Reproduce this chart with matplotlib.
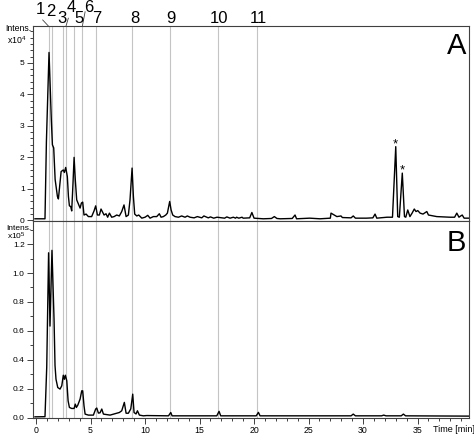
import matplotlib
matplotlib.use("Agg")
import matplotlib.pyplot as plt
from matplotlib.ticker import MultipleLocator, FixedLocator, FormatStrFormatter

plt.rcParams['font.family'] = ['Liberation Sans', 'DejaVu Sans']
plt.rcParams['mathtext.fontset'] = 'custom'
plt.rcParams['mathtext.rm'] = 'Liberation Sans'
plt.rcParams['mathtext.it'] = 'Liberation Sans'

# ---- trace A (intensity x10^4) ----
time_a = [-0.1, 0.82, 0.95, 1.19, 1.4, 1.5, 1.62, 1.75, 1.96, 2.05, 2.3, 2.5, 2.6, 2.72, 2.87,
          2.97, 3.06, 3.18, 3.27, 3.39, 3.49, 3.6, 3.73, 3.88, 4.04, 4.16, 4.28, 4.4, 4.59,
          4.8, 5.1, 5.32, 5.47, 5.63, 5.81, 5.96, 6.08, 6.24, 6.42, 6.57, 6.73, 6.94, 7.16,
          7.4, 7.64, 7.86, 8.07, 8.26, 8.47, 8.62, 8.81, 8.93, 9.05, 9.24, 9.42, 9.7, 10.0,
          10.25, 10.46, 10.76, 11.07, 11.31, 11.47, 11.68, 11.9, 12.05, 12.26, 12.39, 12.54,
          12.75, 13.06, 13.36, 13.67, 13.88, 14.13, 14.5, 14.8, 15.2, 15.4, 15.8, 16.0, 16.3,
          16.6, 17.3, 17.5, 17.8, 18.1, 18.3, 18.4, 18.6, 18.9, 19.0, 19.6, 19.8, 20.0, 20.85,
          21.6, 21.86, 22.1, 22.4, 23.5, 23.76, 23.9, 25.1, 26.05, 27.0, 27.06, 27.6, 27.98,
          28.1, 28.9, 29.1, 29.3, 30.3, 30.9, 31.1, 31.26, 32.2, 32.7, 33.0, 33.18, 33.33,
          33.6, 33.8, 33.92, 34.1, 34.3, 34.5, 34.7, 34.86, 35.02, 35.23, 35.5, 35.85, 36.0,
          36.76, 37.98, 38.4, 38.6, 38.8, 38.96, 39.1, 39.27, 39.7]
inten_a = [0.05, 0.05, 2.5, 5.33, 3.2, 2.4, 2.3, 1.3, 0.76, 0.68, 1.55, 1.6, 1.52, 1.68, 1.39,
           0.76, 0.46, 0.44, 0.3, 1.18, 2.0, 1.29, 0.65, 0.52, 0.39, 0.55, 0.58, 0.17, 0.2,
           0.12, 0.12, 0.3, 0.46, 0.17, 0.17, 0.36, 0.28, 0.17, 0.21, 0.1, 0.23, 0.1, 0.12,
           0.17, 0.14, 0.28, 0.49, 0.12, 0.17, 0.65, 1.66, 0.76, 0.2, 0.14, 0.17, 0.07, 0.1,
           0.16, 0.07, 0.12, 0.12, 0.21, 0.1, 0.12, 0.17, 0.23, 0.6, 0.33, 0.17,
           0.12, 0.1, 0.14, 0.1, 0.14, 0.1, 0.08, 0.12, 0.08, 0.14, 0.08, 0.11, 0.07,
           0.1, 0.07, 0.11, 0.07, 0.1, 0.07, 0.1, 0.07, 0.1, 0.07, 0.08, 0.25, 0.07, 0.05,
           0.06, 0.12, 0.06, 0.05, 0.06, 0.17, 0.05, 0.07, 0.05, 0.07, 0.23, 0.12, 0.14,
           0.09, 0.08, 0.14, 0.07, 0.07, 0.08, 0.2, 0.07, 0.1, 0.1, 2.34, 0.12, 0.1,
           1.5, 0.12, 0.1, 0.33, 0.12, 0.23, 0.36, 0.28, 0.31, 0.23, 0.2, 0.28, 0.17,
           0.12, 0.1, 0.1, 0.23, 0.1, 0.14, 0.17, 0.07, 0.07]

# ---- trace B (intensity x10^5) ----
time_b = [-0.1, 0.82, 0.98, 1.15, 1.28, 1.46, 1.65, 1.74, 1.83, 1.99, 2.2, 2.36, 2.5, 2.6,
          2.69, 2.82, 2.94, 3.06, 3.27, 3.49, 3.6, 3.7, 3.83, 4.04, 4.19, 4.28, 4.4, 4.5,
          4.8, 5.26, 5.47, 5.57, 5.72, 5.87, 6.03, 6.18, 6.79, 7.4, 7.64, 7.86, 8.1, 8.26,
          8.47, 8.69, 8.87, 8.99, 9.17, 9.3, 9.48, 9.85, 10.15, 12.15, 12.36, 12.48, 16.58,
          16.79, 16.94, 20.2, 20.4, 20.55, 28.9, 29.1, 29.3, 31.7, 31.9, 32.1, 33.5, 33.7,
          33.9, 39.7]
inten_b = [0.005, 0.006, 0.35, 1.14, 0.633, 1.157, 0.68, 0.36, 0.265, 0.208, 0.197, 0.22,
           0.293, 0.265, 0.293, 0.254, 0.116, 0.07, 0.063, 0.063, 0.093, 0.07, 0.086, 0.128,
           0.185, 0.185, 0.081, 0.024, 0.017, 0.017, 0.059, 0.066, 0.031, 0.033, 0.059, 0.024,
           0.017, 0.03, 0.035, 0.047, 0.105, 0.03, 0.03, 0.06, 0.162, 0.035, 0.025, 0.047,
           0.017, 0.012, 0.014, 0.012, 0.035, 0.012, 0.012, 0.043, 0.012, 0.012, 0.036,
           0.012, 0.012, 0.024, 0.012, 0.012, 0.017, 0.012, 0.012, 0.024, 0.012, 0.01]

# ---- marked compounds ----
peak_times = [1.17, 1.44, 2.5, 2.75, 3.49, 4.25, 5.53, 8.83, 12.3, 16.7, 20.3]
peak_labels = ['1', '2', '3', '4', '5', '6', '7', '8', '9', '10', '11']
label_x = [0.37, 1.38, 2.36, 3.2, 3.97, 4.8, 5.6, 9.05, 12.36, 16.76, 20.4]
label_raised = [True, True, False, True, False, True, False, False, False, False, False]
star_times = [33.0, 33.6]
star_inten = [2.47, 1.63]

fig = plt.figure(figsize=(4.74, 4.34), dpi=100)
axA = fig.add_axes([33/474, 1-221/434, 436/474, 195/434])
axB = fig.add_axes([33/474, 1-418/434, 436/474, 197/434])

for ax in (axA, axB):
    for t in peak_times:
        ax.axvline(t, color='#c4c4c4', lw=0.8, zorder=1)
    ax.set_xlim(-0.28, 39.72)
    for s in ax.spines.values():
        s.set_color('#404040')
        s.set_linewidth(0.8)
    ax.tick_params(axis='y', which='major', length=4.5, width=0.7, pad=1.5,
                   labelsize=6, colors='#404040', labelcolor='black')
    ax.tick_params(axis='y', which='minor', length=2.5, width=0.7, colors='#404040')

axA.plot(time_a, inten_a, color='black', lw=1.0, zorder=3)
axB.plot(time_b, inten_b, color='black', lw=1.0, zorder=3)

# panel A: labels 0..5 only, the tick at 6 stays unlabeled (minor)
axA.set_ylim(-0.02, 6.17)
axA.yaxis.set_major_locator(FixedLocator([0, 1, 2, 3, 4, 5]))
axA.yaxis.set_minor_locator(MultipleLocator(0.2))
axA.tick_params(axis='x', which='both', bottom=False, labelbottom=False)

axB.set_ylim(-0.003, 1.36)
axB.yaxis.set_major_locator(MultipleLocator(0.2))
axB.yaxis.set_minor_locator(MultipleLocator(0.1))
axB.yaxis.set_major_formatter(FormatStrFormatter('%.1f'))
axB.xaxis.set_major_locator(MultipleLocator(5))
axB.xaxis.set_minor_locator(MultipleLocator(1))
axB.tick_params(axis='x', which='major', length=4, width=0.7, pad=2,
                labelsize=6.3, colors='#404040', labelcolor='black')
axB.tick_params(axis='x', which='minor', length=2.5, width=0.7, colors='#404040')

# compound numbers above panel A
for lab, lx, up in zip(peak_labels, label_x, label_raised):
    if lab == '1':
        yy = 1.087
    elif lab == '2':
        yy = 1.073
    elif up:
        yy = 1.097
    else:
        yy = 1.038
    axA.text(lx, yy, lab, transform=axA.get_xaxis_transform(), ha='center', va='center',
             fontsize=12, clip_on=False)
for x0, x1, y0 in [(0.61, 1.13, 1.031), (2.96, 2.75, 1.04), (4.5, 4.25, 1.073)]:
    axA.plot([x0, x1], [y0, 1.0], transform=axA.get_xaxis_transform(), color='#404040',
             lw=0.6, clip_on=False)

for st, si in zip(star_times, star_inten):
    axA.text(st, si - 0.05, '*', ha='center', va='center', fontsize=9.5)

axA.text(0.971, 0.9, 'A', transform=axA.transAxes, ha='center', va='center', fontsize=21)
axB.text(0.970, 0.888, 'B', transform=axB.transAxes, ha='center', va='center', fontsize=21)

axA.text(-0.004, 0.987, 'Intens.', transform=axA.transAxes, ha='right', va='center', fontsize=6.3)
axA.text(-0.016, 0.925, r'x10$^4$', transform=axA.transAxes, ha='right', va='center', fontsize=6.3)
axB.text(-0.004, 0.962, 'Intens.', transform=axB.transAxes, ha='right', va='center', fontsize=6)
axB.text(-0.016, 0.921, r'x10$^5$', transform=axB.transAxes, ha='right', va='center', fontsize=6)

fig.text(1.003, 0.0115, 'Time [min]', ha='right', va='center', fontsize=6.5)

fig.savefig('out.png', dpi=100)
